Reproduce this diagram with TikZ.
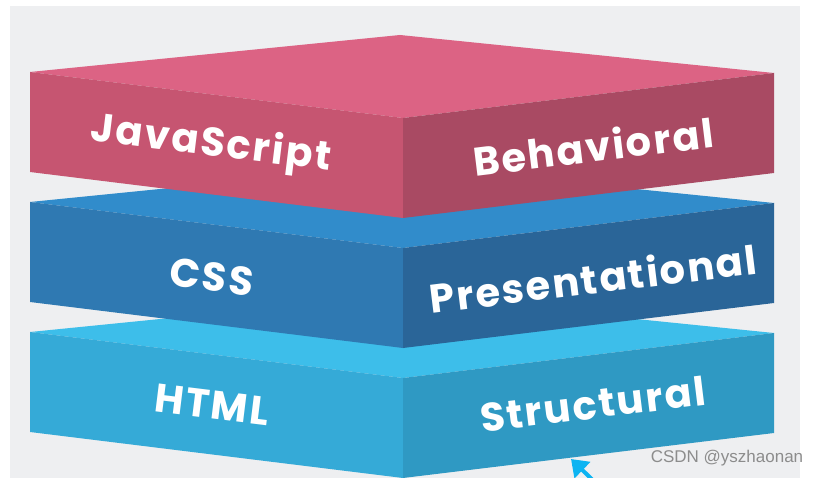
\documentclass[tikz,border=0pt]{standalone}
\usepackage{fontspec}
\setmainfont{Poppins}[LetterSpace=5]
\newfontfamily\wmfont{Liberation Sans}
\usetikzlibrary{positioning,arrows.meta}

\definecolor{bggrey}{HTML}{EEEFF1}
\definecolor{jstop}{HTML}{DC6384}
\definecolor{jsleft}{HTML}{C65571}
\definecolor{jsright}{HTML}{A94A63}
\definecolor{csstop}{HTML}{318CCB}
\definecolor{cssleft}{HTML}{2F79B2}
\definecolor{cssright}{HTML}{2A6598}
\definecolor{htmltop}{HTML}{3DBEEA}
\definecolor{htmlleft}{HTML}{35AAD7}
\definecolor{htmlright}{HTML}{2F99C3}
\definecolor{markgrey}{HTML}{8C8C8C}
\definecolor{pointer}{HTML}{0DB4F2}

\tikzset{
	layertext/.style={text=white, font=\bfseries\fontsize{40}{40}\selectfont, inner sep=0pt},
	marktext/.style={text=markgrey, font=\wmfont\fontsize{17}{17}\selectfont, inner sep=0pt}
}

\begin{document}
\begin{tikzpicture}[x=1pt,y=-1pt]
			\fill[white] (0,0) rectangle (824,478);
			\useasboundingbox (0,0) rectangle (824,478);
			\fill[bggrey] (10,6) rectangle (800,478);
			
			% slabs, bottom one first
			\foreach \y/\t/\l/\r in {332/htmltop/htmlleft/htmlright, 202/csstop/cssleft/cssright, 72/jstop/jsleft/jsright} {
				\fill[\t] (30,\y) -- (400,\y-37) -- (774,\y+1) -- (403,\y+46) -- cycle;
				\fill[\l] (30,\y) -- (403,\y+46) -- (403,\y+146) -- (30,\y+100) -- cycle;
				\fill[\r] (403,\y+46) -- (774,\y+1) -- (774,\y+101) -- (403,\y+146) -- cycle;
			}
			
			\node[layertext, rotate=-7] (js) at (211,145) {JavaScript};
			\node[layertext, rotate=7] (behav) at (593,146) {Behavioral};
			\node[layertext, rotate=-7] (css) at (212,277) {CSS};
			\node[layertext, rotate=7] (pres) at (593,278) {Presentational};
			\node[layertext, rotate=-7] (html) at (212,405) {HTML};
			\node[layertext, rotate=7] (struct) at (593,404) {Structural};
			
			\node[marktext] (mark) at (727,458) {CSDN @yszhaonan};
			
			\begin{scope}
				\clip (0,0) rectangle (824,478);
				\coordinate (tail) at (605,492);
				\coordinate (tip) at (571,459);
				\draw[pointer, line width=4pt, -{Triangle[length=16pt,width=22pt]}] (tail) -- (tip);
			\end{scope}
		\end{tikzpicture}
\end{document}
